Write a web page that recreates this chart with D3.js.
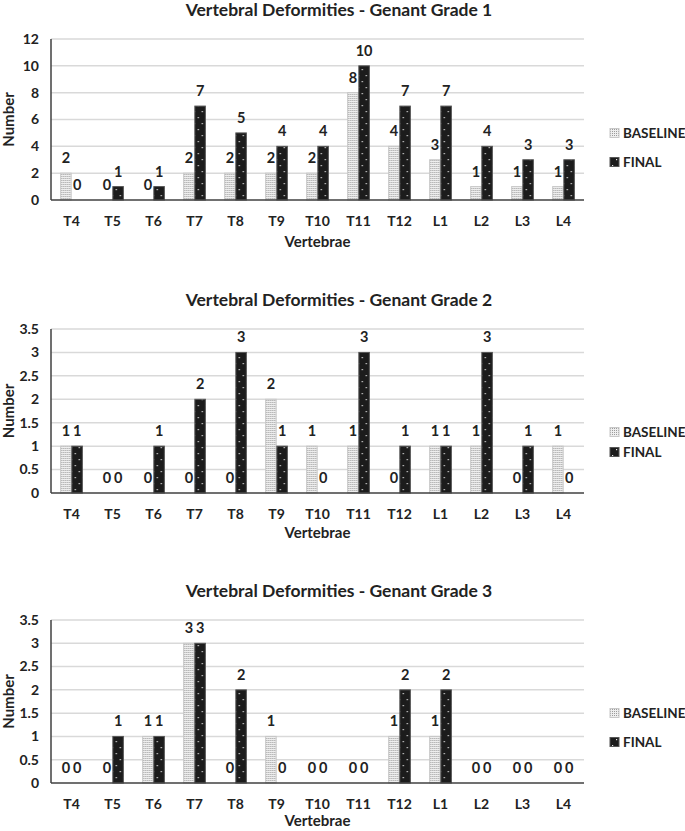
<!DOCTYPE html>
<html>
<head>
<meta charset="utf-8">
<script src="https://cdn.jsdelivr.net/npm/d3@7"></script>
<style>
  body { margin: 0; background: #fff; }
  svg text { font-family: Lato, "Open Sans", sans-serif; font-weight: bold; fill: #222; }
</style>
</head>
<body>
<div id="chart"></div>
<script>
// vertebra levels shared by all three panels
const vertebrae = ["T4", "T5", "T6", "T7", "T8", "T9", "T10", "T11", "T12", "L1", "L2", "L3", "L4"];
const seriesNames = ["BASELINE", "FINAL"];

// Genant grade 1
const grade1Baseline = [2, 0, 0, 2, 2, 2, 2, 8, 4, 3, 1, 1, 1];
const grade1Final = [0, 1, 1, 7, 5, 4, 4, 10, 7, 7, 4, 3, 3];
// Genant grade 2
const grade2Baseline = [1, 0, 0, 0, 0, 2, 1, 1, 0, 1, 1, 0, 1];
const grade2Final = [1, 0, 1, 2, 3, 1, 0, 3, 1, 1, 3, 1, 0];
// Genant grade 3
const grade3Baseline = [0, 0, 1, 3, 0, 1, 0, 0, 1, 1, 0, 0, 0];
const grade3Final = [0, 1, 1, 3, 2, 0, 0, 0, 2, 2, 0, 0, 0];

const grade1Ticks = [0, 2, 4, 6, 8, 10, 12];
const halfTicks = [0, 0.5, 1, 1.5, 2, 2.5, 3, 3.5];

// panel layout (pixel positions of each plot area)
const panels = [
    { title: "Vertebral Deformities - Genant Grade 1", baseline: grade1Baseline, final: grade1Final,
      ticks: grade1Ticks, top: 39, bottom: 200, xTitleGap: 42, legendY: [133, 162] },
    { title: "Vertebral Deformities - Genant Grade 2", baseline: grade2Baseline, final: grade2Final,
      ticks: halfTicks, top: 329, bottom: 493, xTitleGap: 40, legendY: [432, 452] },
    { title: "Vertebral Deformities - Genant Grade 3", baseline: grade3Baseline, final: grade3Final,
      ticks: halfTicks, top: 620, bottom: 783, xTitleGap: 37.5, legendY: [713, 742] }
];

const width = 685, height = 831;
const plotLeft = 51, plotRight = 584;

const svg = d3.select("#chart").append("svg")
    .attr("width", width)
    .attr("height", height);

// fill patterns: light dotted for baseline, black with white specks for final
const defs = svg.append("defs");
const pBase = defs.append("pattern")
    .attr("id", "pat-base")
    .attr("patternUnits", "userSpaceOnUse")
    .attr("width", 2).attr("height", 2);
pBase.append("rect").attr("width", 2).attr("height", 2).attr("fill", "#eeeeee");
pBase.append("rect").attr("width", 1).attr("height", 1).attr("fill", "#9a9a9a");

const pFinal = defs.append("pattern")
    .attr("id", "pat-final")
    .attr("patternUnits", "userSpaceOnUse")
    .attr("width", 8).attr("height", 12);
pFinal.append("rect").attr("width", 8).attr("height", 12).attr("fill", "#1c1c1c");
pFinal.append("rect").attr("x", 2).attr("y", 3).attr("width", 1.2).attr("height", 1.2).attr("fill", "#e8e8e8");
pFinal.append("rect").attr("x", 6).attr("y", 9).attr("width", 1.2).attr("height", 1.2).attr("fill", "#e8e8e8");

const fills = { BASELINE: "url(#pat-base)", FINAL: "url(#pat-final)" };
const strokes = { BASELINE: "#c8c8c8", FINAL: "#555" };

const x0 = d3.scaleBand()
    .domain(vertebrae)
    .range([plotLeft, plotRight])
    .paddingInner(0.47)
    .paddingOuter(0.235);

const x1 = d3.scaleBand()
    .domain(seriesNames)
    .range([0, x0.bandwidth()])
    .paddingInner(0.06);

function drawPanel(p) {
    const g = svg.append("g");
    const y = d3.scaleLinear()
        .domain([0, d3.max(p.ticks)])
        .range([p.bottom, p.top]);

    // title
    g.append("text")
        .attr("x", 339)
        .attr("y", p.top - 29)
        .attr("dy", "0.35em")
        .attr("text-anchor", "middle")
        .style("font-size", "17.5px")
        .text(p.title);

    // gridlines
    g.selectAll(".grid")
        .data(p.ticks.filter(d => d > 0))
        .enter().append("line")
        .attr("x1", plotLeft).attr("x2", plotRight)
        .attr("y1", d => y(d)).attr("y2", d => y(d))
        .attr("stroke", "#d9d9d9")
        .attr("stroke-width", 1.5);

    // y tick labels
    g.selectAll(".ytick")
        .data(p.ticks)
        .enter().append("text")
        .attr("x", 39)
        .attr("y", d => y(d))
        .attr("dy", "0.35em")
        .attr("text-anchor", "end")
        .style("font-size", "14px")
        .text(d => String(d));

    const rows = vertebrae.map((v, i) => ({
        vert: v,
        values: [
            { key: "BASELINE", value: p.baseline[i] },
            { key: "FINAL", value: p.final[i] }
        ]
    }));

    const groups = g.selectAll(".cat")
        .data(rows)
        .enter().append("g")
        .attr("transform", d => "translate(" + x0(d.vert) + ",0)");

    groups.selectAll("rect")
        .data(d => d.values.filter(v => v.value > 0))
        .enter().append("rect")
        .attr("x", d => x1(d.key))
        .attr("y", d => y(d.value))
        .attr("width", x1.bandwidth())
        .attr("height", d => y(0) - y(d.value))
        .attr("fill", d => fills[d.key])
        .attr("stroke", d => strokes[d.key])
        .attr("stroke-width", 1);

    groups.selectAll("text")
        .data(d => d.values)
        .enter().append("text")
        .attr("x", d => x1(d.key) + x1.bandwidth() / 2)
        .attr("y", d => y(d.value) - 10)
        .attr("text-anchor", "middle")
        .style("font-size", "14.5px")
        .text(d => d.value);

    // axes lines
    g.append("line")
        .attr("x1", plotLeft).attr("x2", plotLeft)
        .attr("y1", p.top).attr("y2", p.bottom)
        .attr("stroke", "#404040").attr("stroke-width", 1.5);
    g.append("line")
        .attr("x1", plotLeft).attr("x2", plotRight)
        .attr("y1", p.bottom).attr("y2", p.bottom)
        .attr("stroke", "#404040").attr("stroke-width", 1.5);

    // x labels
    g.selectAll(".xlab")
        .data(vertebrae)
        .enter().append("text")
        .attr("x", d => x0(d) + x0.bandwidth() / 2)
        .attr("y", p.bottom + 21)
        .attr("dy", "0.35em")
        .attr("text-anchor", "middle")
        .style("font-size", "14px")
        .text(d => d);

    g.append("text")
        .attr("x", (plotLeft + plotRight) / 2)
        .attr("y", p.bottom + p.xTitleGap)
        .attr("dy", "0.35em")
        .attr("text-anchor", "middle")
        .style("font-size", "15px")
        .text("Vertebrae");

    g.append("text")
        .attr("transform", "translate(9," + (p.top + p.bottom) / 2 + ") rotate(-90)")
        .attr("dy", "0.35em")
        .attr("text-anchor", "middle")
        .style("font-size", "15px")
        .text("Number");

    // legend
    const leg = g.selectAll(".leg")
        .data(seriesNames)
        .enter().append("g")
        .attr("transform", (d, i) => "translate(610," + p.legendY[i] + ")");
    leg.append("rect")
        .attr("x", 0).attr("y", -4.5)
        .attr("width", 9).attr("height", 9)
        .attr("fill", d => fills[d])
        .attr("stroke", d => strokes[d]);
    leg.append("text")
        .attr("x", 13)
        .attr("dy", "0.35em")
        .style("font-size", "13.5px")
        .text(d => d);
}

panels.forEach(drawPanel);
</script>
</body>
</html>
